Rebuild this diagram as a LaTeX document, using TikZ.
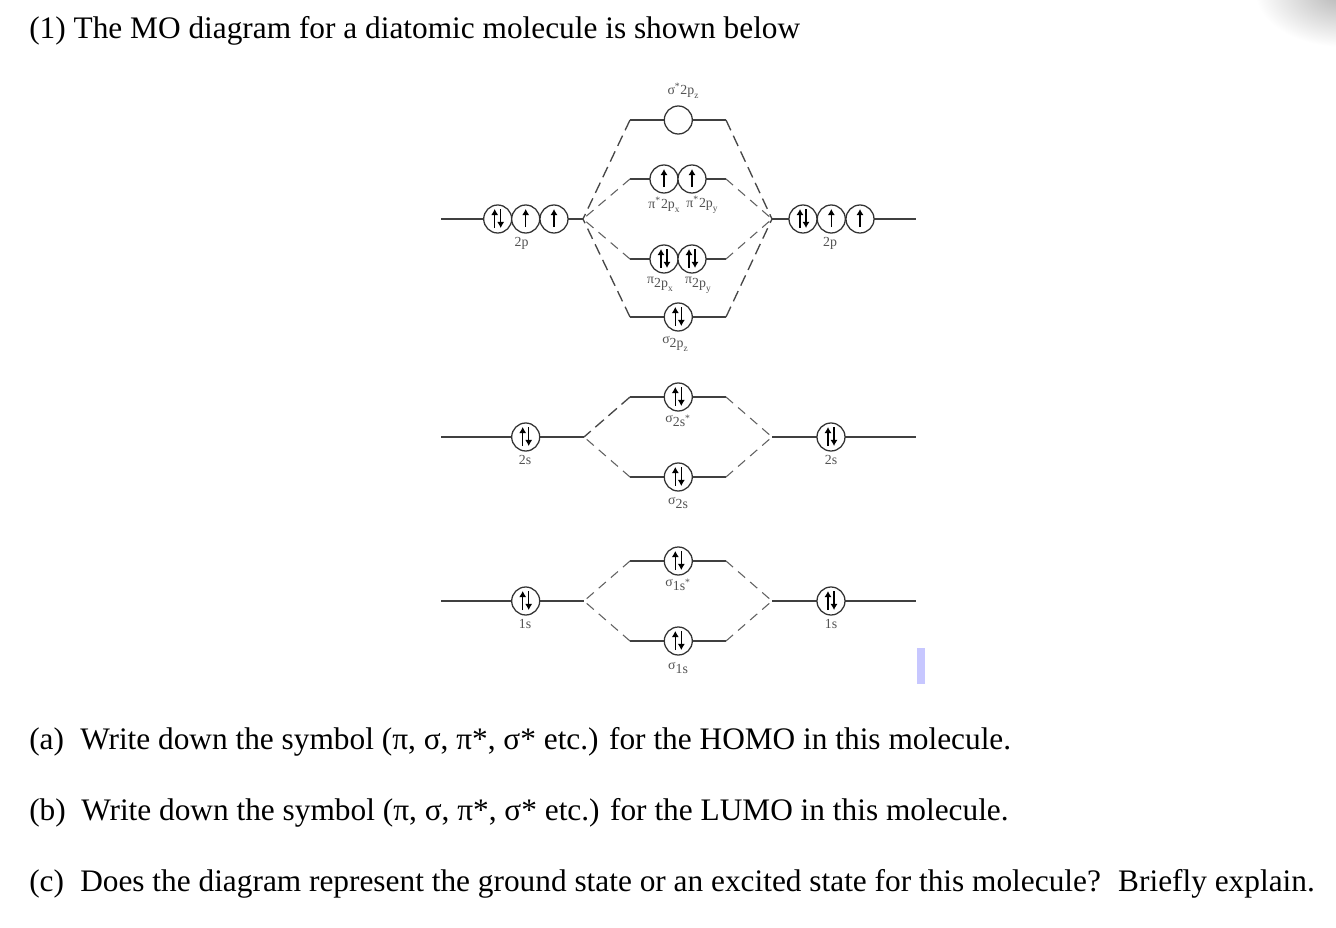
\documentclass[tikz,border=0pt]{standalone}
\usepackage{fontspec}
\setmainfont{Liberation Serif}
\usetikzlibrary{arrows.meta}
\newcommand{\eup}[1]{\draw[elec] (#1.center) ++(0,8) -- ++(0,-18);}
\newcommand{\epair}[1]{\draw[elec] (#1.center) ++(-3,9) -- ++(0,-19);\draw[elec] (#1.center) ++(3,-10) -- ++(0,19);}
\newcommand{\lbl}[3]{\node[lab] (#1) at (#2) {#3};}
\newcommand{\sbs}[1]{\raisebox{-0.28em}{#1}}
\tikzset{
  orb/.style={circle,draw=black!80,fill=white,line width=0.95pt,minimum size=21pt,inner sep=0pt,outer sep=0pt},
  level/.style={draw=black!75,line width=1pt},
  elec/.style={draw=black,line width=0.85pt,-{Latex[length=4.6pt,width=5.4pt]}},
  darkdash/.style={draw=black!72,line width=1pt,dash pattern=on 8.5pt off 4.5pt},
  lightdash/.style={draw=black!62,line width=0.8pt,dash pattern=on 7pt off 5pt},
  lab/.style={text=black!68,font=\fontsize{10.4}{11}\selectfont,inner sep=0pt},
  body/.style={anchor=base west,inner sep=0pt,font=\fontsize{23.5}{26}\selectfont,text=black}
}
\begin{document}
\begin{tikzpicture}[x=0.75pt,y=-0.75pt]
\useasboundingbox (0,0) rectangle (1336,928);
\fill[white] (0,0) rectangle (1336,928);
\begin{scope}
\clip (0,0) rectangle (1336,928);
\shade[inner color=black!30,outer color=white] (1345,-8) ellipse (90 and 55);
\end{scope}
% junctions
\coordinate (JL2p) at (583,219); \coordinate (JR2p) at (772,219);
\coordinate (JL2s) at (584,437); \coordinate (JR2s) at (772,437);
\coordinate (JL1s) at (584,601); \coordinate (JR1s) at (772,601);
\coordinate (EL2p) at (441,219); \coordinate (ER2p) at (916,219);
\coordinate (EL2s) at (441,437); \coordinate (ER2s) at (916,437);
\coordinate (EL1s) at (441,601); \coordinate (ER1s) at (916,601);
% molecular level ends
\foreach \n/\y in {sss/120,pis/179,pib/259,sgz/317,ssb/397,sgb/477,osb/561,ogb/641}{
  \coordinate (\n L) at (630,\y); \coordinate (\n R) at (726,\y);
  \draw[level] (\n L) -- (\n R);
}
% dashed connectors
\draw[darkdash] (sssL) -- (JL2p); \draw[darkdash] (sssR) -- (JR2p);
\draw[lightdash] (pisL) -- (JL2p); \draw[lightdash] (pisR) -- (JR2p);
\draw[lightdash] (pibL) -- (JL2p); \draw[lightdash] (pibR) -- (JR2p);
\draw[darkdash] (sgzL) -- (JL2p); \draw[darkdash] (sgzR) -- (JR2p);
\draw[darkdash] (ssbL) -- (JL2s); \draw[lightdash] (ssbR) -- (JR2s);
\draw[lightdash] (sgbL) -- (JL2s); \draw[lightdash] (sgbR) -- (JR2s);
\draw[lightdash] (osbL) -- (JL1s); \draw[lightdash] (osbR) -- (JR1s);
\draw[lightdash] (ogbL) -- (JL1s); \draw[lightdash] (ogbR) -- (JR1s);
% atomic levels
\draw[level] (EL2p) -- (JL2p); \draw[level] (JR2p) -- (ER2p);
\draw[level] (EL2s) -- (JL2s); \draw[level] (JR2s) -- (ER2s);
\draw[level] (EL1s) -- (JL1s); \draw[level] (JR1s) -- (ER1s);
% orbitals
\node[orb] (a1) at (497.7,219) {}; \node[orb] (a2) at (525.7,219) {}; \node[orb] (a3) at (554,219) {};
\node[orb] (b1) at (803,219) {}; \node[orb] (b2) at (831.3,219) {}; \node[orb] (b3) at (860,219) {};
\node[orb] (c) at (525.7,437) {}; \node[orb] (d) at (831,437) {};
\node[orb] (e) at (525.7,601) {}; \node[orb] (f) at (831,601) {};
\node[orb] (m1) at (678.3,120) {};
\node[orb] (m2) at (664,179) {}; \node[orb] (m3) at (692,179) {};
\node[orb] (m4) at (664,259) {}; \node[orb] (m5) at (692,259) {};
\node[orb] (m6) at (678.3,317) {};
\node[orb] (m7) at (678.3,397) {}; \node[orb] (m8) at (678.3,477) {};
\node[orb] (m9) at (678.3,561) {}; \node[orb] (m10) at (678.3,641) {};
\epair{a1}\eup{a2}\eup{a3}\epair{b1}\eup{b2}\eup{b3}
\epair{c}\epair{d}\epair{e}\epair{f}
\eup{m2}\eup{m3}\epair{m4}\epair{m5}\epair{m6}\epair{m7}\epair{m8}\epair{m9}\epair{m10}
% labels
\lbl{l1}{521.5,243}{2p}
\lbl{l2}{830,243}{2p}
\lbl{l3}{525,460}{2s}
\lbl{l4}{831,460}{2s}
\lbl{l5}{525,624}{1s}
\lbl{l6}{831,624}{1s}
\lbl{l7}{683,91}{σ\textsuperscript{*}2p\sbs{\fontsize{7}{7}\selectfont z}}
\lbl{l8}{664,205}{π\textsuperscript{*}2p\sbs{\fontsize{7}{7}\selectfont x}}
\lbl{l9}{702,205}{π\textsuperscript{*}2p\sbs{\fontsize{7}{7}\selectfont y}}
\lbl{l10}{660,284}{π\sbs{2p\sbs{\fontsize{7}{7}\selectfont x}}}
\lbl{l11}{698,285}{π\sbs{2p\sbs{\fontsize{7}{7}\selectfont y}}}
\lbl{l12}{675,344}{σ\sbs{2p\sbs{\fontsize{7}{7}\selectfont z}}}
\lbl{l13}{678,421}{σ\sbs{2s\textsuperscript{*}}}
\lbl{l14}{678,503}{σ\sbs{2s}}
\lbl{l15}{678,585}{σ\sbs{1s\textsuperscript{*}}}
\lbl{l16}{678,668}{σ\sbs{1s}}
% selection bar
\fill[blue!22!white] (917,648) rectangle (925,684);
% text
\node[body] (t0) at (29,38) {(1) The MO diagram for a diatomic molecule is shown below};
\node[body] (t1a) at (29,749) {(a)};
\node[body] (t1) at (80,749) {Write down the symbol (π, σ, π*, σ* etc.) for the HOMO in this molecule.};
\node[body] (t2a) at (29,820) {(b)};
\node[body] (t2) at (81,820) {Write down the symbol (π, σ, π*, σ* etc.) for the LUMO in this molecule.};
\node[body] (t3a) at (29,891) {(c)};
\node[body] (t3) at (80,891) {Does the diagram represent the ground state or an excited state for this molecule?\hspace{0.55em}Briefly explain.};
\end{tikzpicture}
\end{document}
